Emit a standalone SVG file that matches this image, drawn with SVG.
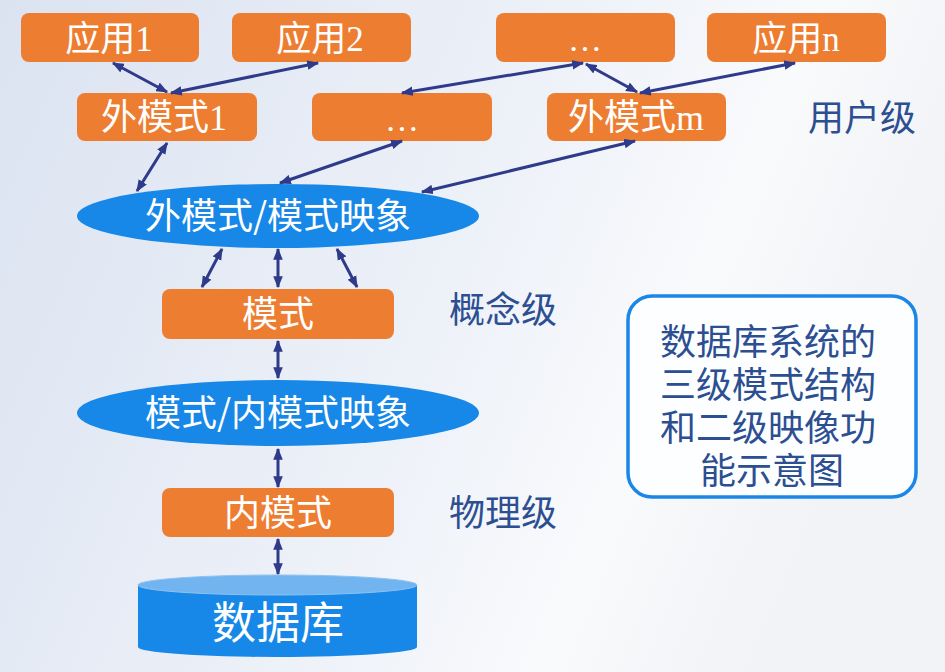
<svg xmlns="http://www.w3.org/2000/svg" width="945" height="672" viewBox="0 0 945 672">
<defs>
<linearGradient id="bg" x1="0" y1="0" x2="1" y2="0.3">
<stop offset="0" stop-color="#dbe3f1"/>
<stop offset="0.55" stop-color="#edf1f8"/>
<stop offset="0.8" stop-color="#f9fafc"/>
<stop offset="1" stop-color="#f1f3f6"/>
</linearGradient>
<marker id="ah" viewBox="0 0 10 8" refX="9" refY="4" markerWidth="12" markerHeight="10" markerUnits="userSpaceOnUse" orient="auto-start-reverse">
<path d="M0,0 L10,4 L0,8 z" fill="#2f3a8a"/>
</marker>
<style>
.box{fill:#ed7d31;}
.ell{fill:#1787e8;}
.wt{fill:#ffffff;font-family:"Noto Sans CJK SC","Noto Sans",sans-serif;text-anchor:middle;}
.ser{font-family:"Liberation Serif",serif;}
.lbl{fill:#2c4f91;font-family:"Noto Sans CJK SC","Noto Sans",sans-serif;font-size:36px;}
.con line{stroke:#2f3a8a;stroke-width:3;marker-start:url(#ah);marker-end:url(#ah);}
</style>
</defs>
<rect x="0" y="0" width="945" height="672" fill="url(#bg)"/>

<g id="app1"><rect class="box" x="21" y="13" width="178" height="49" rx="8"/><text class="wt" x="109" y="51" font-size="35">应用<tspan class="ser">1</tspan></text></g>
<g id="app2"><rect class="box" x="232" y="13" width="179" height="49" rx="8"/><text class="wt" x="320" y="51" font-size="35">应用<tspan class="ser">2</tspan></text></g>
<g id="appdots"><rect class="box" x="496" y="13" width="179" height="49" rx="8"/><text class="wt ser" x="585" y="51" font-size="34">…</text></g>
<g id="appn"><rect class="box" x="707" y="13" width="179" height="49" rx="8"/><text class="wt" x="796" y="51" font-size="35">应用<tspan class="ser">n</tspan></text></g>

<g id="ext1"><rect class="box" x="77" y="93" width="180" height="48" rx="8"/><text class="wt" x="164" y="130" font-size="36">外模式<tspan class="ser">1</tspan></text></g>
<g id="extdots"><rect class="box" x="312" y="93" width="180" height="48" rx="8"/><text class="wt ser" x="402" y="131" font-size="34">…</text></g>
<g id="extm"><rect class="box" x="547" y="93" width="179" height="48" rx="8"/><text class="wt" x="636" y="130" font-size="36">外模式<tspan class="ser">m</tspan></text></g>

<g id="userlevel"><text class="lbl" x="808" y="131">用户级</text></g>

<g id="map1"><ellipse class="ell" cx="278" cy="216" rx="201" ry="32"/><text class="wt" x="278" y="229" font-size="36">外模式/模式映象</text></g>

<g id="schema"><rect class="box" x="162" y="289" width="232" height="50" rx="8"/><text class="wt" x="278" y="327" font-size="36">模式</text></g>
<g id="conceptlevel"><text class="lbl" x="449" y="323">概念级</text></g>

<g id="map2"><ellipse class="ell" cx="278" cy="413" rx="201" ry="33"/><text class="wt" x="278" y="426" font-size="36">模式/内模式映象</text></g>

<g id="internal"><rect class="box" x="162" y="488" width="232" height="49" rx="8"/><text class="wt" x="278" y="526" font-size="36">内模式</text></g>
<g id="physlevel"><text class="lbl" x="449" y="526">物理级</text></g>

<g id="database">
<path d="M138,585 L138,647 A139.5,10 0 0 0 417,647 L417,585 Z" fill="#1787e8"/>
<ellipse cx="277.5" cy="585" rx="139.5" ry="10" fill="#72b4f0" stroke="#8cc3f3" stroke-width="1"/>
<text class="wt" x="278" y="639" font-size="44">数据库</text>
</g>

<g id="note">
<rect x="628" y="296" width="288" height="201" rx="24" fill="#fdfeff" stroke="#1a86e6" stroke-width="3.5"/>
<text fill="#2c4f91" font-family="'Noto Sans CJK SC','Noto Sans',sans-serif" font-size="36" text-anchor="middle">
<tspan x="772" y="355">数据库系统的</tspan>
<tspan x="772" y="398">三级模式结构</tspan>
<tspan x="772" y="441">和二级映像功</tspan>
<tspan x="772" y="484">能示意图</tspan>
</text>
</g>

<g id="connectors" class="con">
<line x1="113" y1="63" x2="167" y2="92"/>
<line x1="318" y1="63" x2="171" y2="93"/>
<line x1="583" y1="63" x2="402" y2="93"/>
<line x1="586" y1="64" x2="637" y2="92"/>
<line x1="795" y1="63" x2="640" y2="93"/>
<line x1="167" y1="143" x2="137" y2="191"/>
<line x1="402" y1="141" x2="280" y2="183"/>
<line x1="635" y1="141" x2="422" y2="192"/>
<line x1="222" y1="249" x2="202" y2="287"/>
<line x1="278" y1="249" x2="278" y2="287"/>
<line x1="337" y1="249" x2="357" y2="287"/>
<line x1="278" y1="341" x2="278" y2="378"/>
<line x1="278" y1="449" x2="278" y2="487"/>
<line x1="278" y1="539" x2="278" y2="574"/>
</g>
</svg>
